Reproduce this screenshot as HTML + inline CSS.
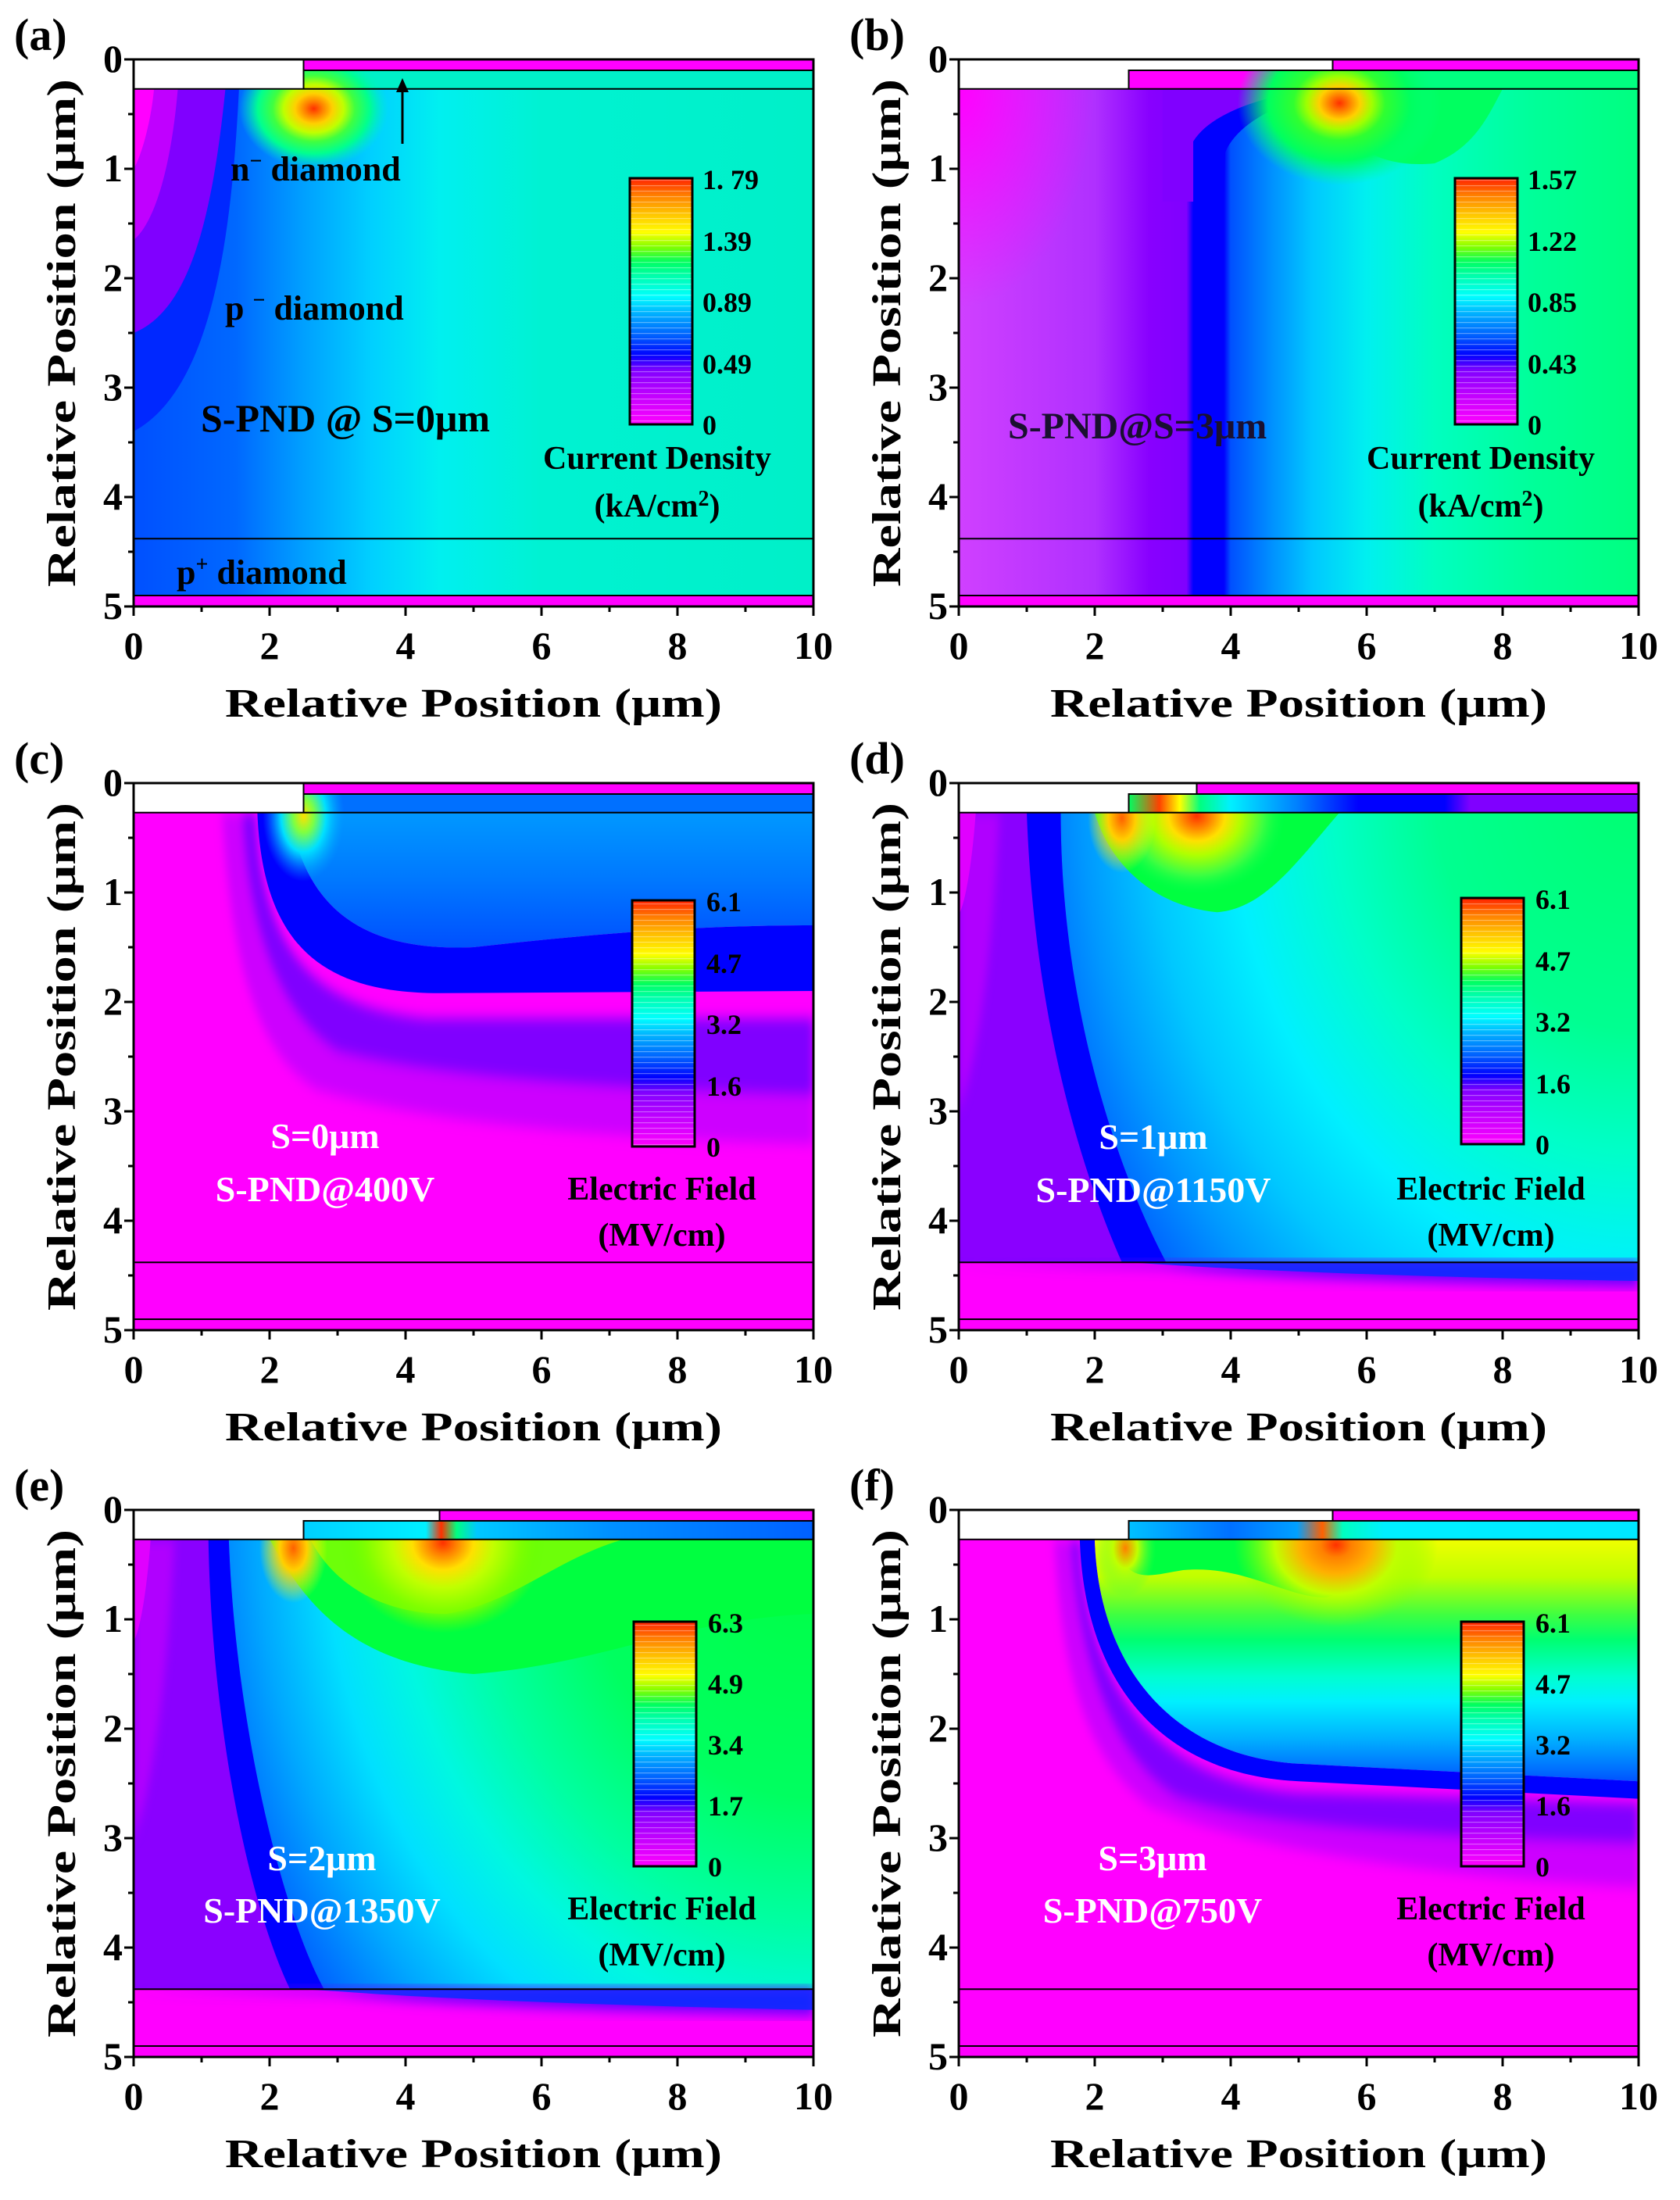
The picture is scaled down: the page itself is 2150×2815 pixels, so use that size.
<!DOCTYPE html>
<html><head><meta charset="utf-8"><style>
html,body{margin:0;padding:0;background:#fff;}
svg{display:block;}
text{font-family:"Liberation Serif",serif;font-weight:bold;fill:#000;}
.tk{font-size:50px;}
.tt{font-size:52px;}
.pl{font-size:58px;}
.cl{font-size:36px;}
.ct{font-size:42px;}
.wt{font-size:46px;fill:#fff;}
</style></head><body>
<svg width="2150" height="2815" viewBox="0 0 2150 2815" xmlns="http://www.w3.org/2000/svg">
<defs>
<linearGradient id="cb" x1="0" y1="1" x2="0" y2="0">
<stop offset="0" stop-color="#ff00ff"/><stop offset="0.12" stop-color="#c000ff"/><stop offset="0.22" stop-color="#8000ff"/><stop offset="0.28" stop-color="#0000ff"/><stop offset="0.36" stop-color="#0060ff"/><stop offset="0.45" stop-color="#00b0ff"/><stop offset="0.52" stop-color="#00ffff"/><stop offset="0.6" stop-color="#00ffb0"/><stop offset="0.66" stop-color="#00ff60"/><stop offset="0.72" stop-color="#80ff00"/><stop offset="0.78" stop-color="#ffff00"/><stop offset="0.86" stop-color="#ffc000"/><stop offset="0.93" stop-color="#ff8000"/><stop offset="1" stop-color="#ff2000"/>
</linearGradient>
<pattern id="stripe" width="10" height="7" patternUnits="userSpaceOnUse"><rect x="0" y="0" width="10" height="1.2" fill="#fff" opacity="0.35"/></pattern>
<filter id="bl" x="-20%" y="-20%" width="140%" height="140%"><feGaussianBlur stdDeviation="6"/></filter>
</defs>

<!-- ================= PANEL A ================= -->
<g transform="translate(171,76)">
<svg x="0" y="0" width="870" height="700" viewBox="0 0 1000 500" preserveAspectRatio="none">
<defs>
<linearGradient id="ga" x1="0" x2="1" y1="0" y2="0"><stop offset="0" stop-color="#0050ff"/><stop offset="0.15" stop-color="#0068ff"/><stop offset="0.25" stop-color="#00a0ff"/><stop offset="0.35" stop-color="#00d0ff"/><stop offset="0.45" stop-color="#00f0f0"/><stop offset="0.6" stop-color="#00f2d2"/><stop offset="1" stop-color="#00f0c8"/></linearGradient>
<radialGradient id="ha" cx="265" cy="45" r="110" gradientUnits="userSpaceOnUse" gradientTransform="translate(265,45) scale(1,0.5) translate(-265,-45)"><stop offset="0" stop-color="#ff3000"/><stop offset="0.12" stop-color="#ff8000"/><stop offset="0.25" stop-color="#ffd000"/><stop offset="0.4" stop-color="#c0ff00"/><stop offset="0.55" stop-color="#40ff40"/><stop offset="0.75" stop-color="#00ff90"/><stop offset="1" stop-color="#00f0c8" stop-opacity="0"/></radialGradient>
</defs>
<rect x="0" y="0" width="1000" height="500" fill="#00f0c8"/>
<rect x="0" y="27" width="1000" height="463" fill="url(#ga)"/>
<path d="M0,27 L155,27 C145,150 120,300 0,340 Z" fill="#0028ff"/>
<path d="M0,27 L135,27 C115,150 80,230 0,250 Z" fill="#8000ff"/>
<path d="M0,27 L65,27 C55,100 30,150 0,165 Z" fill="#c000ff"/>
<path d="M0,27 L30,27 C25,60 10,90 0,100 Z" fill="#ff00ff"/>
<rect x="250" y="10" width="750" height="17" fill="#00f0c8"/>
<rect x="100" y="10" width="400" height="200" fill="url(#ha)"/>
<rect x="0" y="0" width="250" height="27" fill="#fff"/>
<rect x="250" y="0" width="750" height="10" fill="#ff00ff"/>
<rect x="0" y="490" width="1000" height="10" fill="#ff00ff"/>
<path d="M0,27H1000M250,27V10H1000M250,10V0M0,438H1000M0,490H1000" stroke="#000" stroke-width="2" fill="none" vector-effect="non-scaling-stroke"/>
</svg>
<line x1="344" y1="108" x2="344" y2="34" stroke="#000" stroke-width="3"/>
<path d="M344,24 L336,42 L352,42 Z" fill="#000"/>
<text x="124" y="155" style="font-size:44px">n<tspan dy="-16" style="font-size:28px">−</tspan><tspan dy="16"> diamond</tspan></text>
<text x="117" y="333" style="font-size:44px">p <tspan dy="-16" style="font-size:28px">−</tspan><tspan dy="16"> diamond</tspan></text>
<text x="86" y="476" style="font-size:50px">S-PND @ S=0μm</text>
<text x="55" y="671" style="font-size:44px">p<tspan dy="-16" style="font-size:28px">+</tspan><tspan dy="16"> diamond</tspan></text>
<rect x="635" y="152" width="80" height="315" fill="url(#cb)"/><rect x="635" y="152" width="80" height="315" fill="url(#stripe)"/><rect x="635" y="152" width="80" height="315" fill="none" stroke="#000" stroke-width="3"/>
<text class="cl" x="728" y="166">1. 79</text><text class="cl" x="728" y="245">1.39</text><text class="cl" x="728" y="323">0.89</text><text class="cl" x="728" y="402">0.49</text><text class="cl" x="728" y="480">0</text>
<text class="ct" x="670" y="524" text-anchor="middle">Current  Density</text>
<text class="ct" x="670" y="585" text-anchor="middle">(kA/cm<tspan dy="-14" style="font-size:28px">2</tspan><tspan dy="14">)</tspan></text>
<rect x="0" y="0" width="870" height="700" fill="none" stroke="#000" stroke-width="3"/>
<path d="M0,700v12M174,700v12M348,700v12M522,700v12M696,700v12M870,700v12M87,700v7M261,700v7M435,700v7M609,700v7M783,700v7M0,0h-12M0,140h-12M0,280h-12M0,420h-12M0,560h-12M0,700h-12M0,70h-7M0,210h-7M0,350h-7M0,490h-7M0,630h-7" stroke="#000" stroke-width="3"/>
<text class="tk" x="0" y="767" text-anchor="middle">0</text><text class="tk" x="174" y="767" text-anchor="middle">2</text><text class="tk" x="348" y="767" text-anchor="middle">4</text><text class="tk" x="522" y="767" text-anchor="middle">6</text><text class="tk" x="696" y="767" text-anchor="middle">8</text><text class="tk" x="870" y="767" text-anchor="middle">10</text>
<text class="tk" x="-14" y="16" text-anchor="end">0</text><text class="tk" x="-14" y="156" text-anchor="end">1</text><text class="tk" x="-14" y="296" text-anchor="end">2</text><text class="tk" x="-14" y="436" text-anchor="end">3</text><text class="tk" x="-14" y="576" text-anchor="end">4</text><text class="tk" x="-14" y="716" text-anchor="end">5</text>
<text class="tt" x="435" y="841" text-anchor="middle" textLength="636" lengthAdjust="spacingAndGlyphs">Relative Position (μm)</text>
<text class="tt" transform="translate(-75,350) rotate(-90)" x="0" y="0" text-anchor="middle" textLength="650" lengthAdjust="spacingAndGlyphs">Relative Position (μm)</text>
<text class="pl" x="-153" y="-12">(a)</text>
</g>

<!-- ================= PANEL B ================= -->
<g transform="translate(1227,76)">
<svg x="0" y="0" width="870" height="700" viewBox="0 0 1000 500" preserveAspectRatio="none">
<defs>
<linearGradient id="gb" x1="0" x2="1" y1="0" y2="0"><stop offset="0" stop-color="#d040ff"/><stop offset="0.2" stop-color="#b030ff"/><stop offset="0.28" stop-color="#8800ff"/><stop offset="0.335" stop-color="#8000ff"/><stop offset="0.345" stop-color="#0000ff"/><stop offset="0.39" stop-color="#0000ff"/><stop offset="0.4" stop-color="#0050ff"/><stop offset="0.46" stop-color="#0090ff"/><stop offset="0.52" stop-color="#00c8ff"/><stop offset="0.6" stop-color="#00f0f0"/><stop offset="0.7" stop-color="#00ffc0"/><stop offset="0.85" stop-color="#00ff98"/><stop offset="1" stop-color="#00ff80"/></linearGradient>
<radialGradient id="hb" cx="560" cy="40" r="150" gradientUnits="userSpaceOnUse" gradientTransform="translate(560,40) scale(1,0.5) translate(-560,-40)"><stop offset="0" stop-color="#ff3000"/><stop offset="0.1" stop-color="#ff8000"/><stop offset="0.2" stop-color="#ffd000"/><stop offset="0.32" stop-color="#a0ff00"/><stop offset="0.45" stop-color="#30ff30"/><stop offset="0.7" stop-color="#00ff60"/><stop offset="1" stop-color="#00ff80" stop-opacity="0"/></radialGradient>
<radialGradient id="mb" cx="0" cy="27" r="200" gradientUnits="userSpaceOnUse"><stop offset="0" stop-color="#ff00ff"/><stop offset="1" stop-color="#ff00ff" stop-opacity="0"/></radialGradient>
</defs>
<rect x="0" y="0" width="1000" height="500" fill="url(#gb)"/>
<rect x="0" y="27" width="300" height="300" fill="url(#mb)"/>
<path d="M300,27 L520,27 C440,35 370,50 345,75 L345,130 L300,130 Z" fill="#8000ff"/>
<path d="M345,130 L345,75 C370,50 440,35 520,27 L548,27 C470,40 410,58 392,85 L390,130 Z" fill="#0000ff"/>
<path d="M540,27 C560,80 620,100 700,95 C760,80 780,50 800,27 Z" fill="#00ff60"/>
<rect x="250" y="10" width="300" height="17" fill="#ff00ff"/>
<rect x="530" y="10" width="20" height="17" fill="#4060ff"/>
<rect x="550" y="10" width="450" height="17" fill="#00ff80"/>
<rect x="400" y="10" width="400" height="200" fill="url(#hb)"/>
<rect x="0" y="0" width="250" height="27" fill="#fff"/>
<rect x="250" y="0" width="300" height="10" fill="#fff"/>
<rect x="550" y="0" width="450" height="10" fill="#ff00ff"/>
<rect x="0" y="490" width="1000" height="10" fill="#ff00ff"/>
<path d="M0,27H1000M250,27V10H1000M550,10V0M0,438H1000M0,490H1000" stroke="#000" stroke-width="2" fill="none" vector-effect="non-scaling-stroke"/>
</svg>
<text x="63" y="485" style="font-size:48px;fill:#1a1030">S-PND@S=3μm</text>
<rect x="635" y="152" width="80" height="315" fill="url(#cb)"/><rect x="635" y="152" width="80" height="315" fill="url(#stripe)"/><rect x="635" y="152" width="80" height="315" fill="none" stroke="#000" stroke-width="3"/>
<text class="cl" x="728" y="166">1.57</text><text class="cl" x="728" y="245">1.22</text><text class="cl" x="728" y="323">0.85</text><text class="cl" x="728" y="402">0.43</text><text class="cl" x="728" y="480">0</text>
<text class="ct" x="668" y="524" text-anchor="middle">Current  Density</text>
<text class="ct" x="668" y="585" text-anchor="middle">(kA/cm<tspan dy="-14" style="font-size:28px">2</tspan><tspan dy="14">)</tspan></text>
<rect x="0" y="0" width="870" height="700" fill="none" stroke="#000" stroke-width="3"/>
<path d="M0,700v12M174,700v12M348,700v12M522,700v12M696,700v12M870,700v12M87,700v7M261,700v7M435,700v7M609,700v7M783,700v7M0,0h-12M0,140h-12M0,280h-12M0,420h-12M0,560h-12M0,700h-12M0,70h-7M0,210h-7M0,350h-7M0,490h-7M0,630h-7" stroke="#000" stroke-width="3"/>
<text class="tk" x="0" y="767" text-anchor="middle">0</text><text class="tk" x="174" y="767" text-anchor="middle">2</text><text class="tk" x="348" y="767" text-anchor="middle">4</text><text class="tk" x="522" y="767" text-anchor="middle">6</text><text class="tk" x="696" y="767" text-anchor="middle">8</text><text class="tk" x="870" y="767" text-anchor="middle">10</text>
<text class="tk" x="-14" y="16" text-anchor="end">0</text><text class="tk" x="-14" y="156" text-anchor="end">1</text><text class="tk" x="-14" y="296" text-anchor="end">2</text><text class="tk" x="-14" y="436" text-anchor="end">3</text><text class="tk" x="-14" y="576" text-anchor="end">4</text><text class="tk" x="-14" y="716" text-anchor="end">5</text>
<text class="tt" x="435" y="841" text-anchor="middle" textLength="636" lengthAdjust="spacingAndGlyphs">Relative Position (μm)</text>
<text class="tt" transform="translate(-75,350) rotate(-90)" x="0" y="0" text-anchor="middle" textLength="650" lengthAdjust="spacingAndGlyphs">Relative Position (μm)</text>
<text class="pl" x="-140" y="-12">(b)</text>
</g>

<!-- ================= PANEL C ================= -->
<g transform="translate(171,1002)">
<svg x="0" y="0" width="870" height="700" viewBox="0 0 1000 500" preserveAspectRatio="none">
<defs>
<linearGradient id="gc" x1="0" y1="27" x2="0" y2="150" gradientUnits="userSpaceOnUse"><stop offset="0" stop-color="#0098ff"/><stop offset="0.5" stop-color="#0078ff"/><stop offset="1" stop-color="#0050ff"/></linearGradient>
<radialGradient id="hc" cx="250" cy="30" r="60" gradientUnits="userSpaceOnUse"><stop offset="0" stop-color="#ffe000"/><stop offset="0.25" stop-color="#80ff40"/><stop offset="0.55" stop-color="#00e0ff"/><stop offset="1" stop-color="#00a0ff" stop-opacity="0"/></radialGradient>
</defs>
<rect x="0" y="0" width="1000" height="500" fill="#ff00ff"/>
<g filter="url(#bl)">
<path d="M175,27 C185,170 270,225 420,240 L1000,240 L1000,330 C700,325 420,310 270,280 C160,240 140,120 130,27 Z" fill="#c000ff" opacity="0.8"/>
<path d="M180,27 C188,160 275,205 430,215 L1000,215 L1000,285 C700,280 430,268 300,245 C200,205 165,110 160,27 Z" fill="#8000ff"/>
</g>
<path d="M182,27 C190,150 280,192 450,192 L1000,190 L1000,130 C800,130 650,140 500,150 C330,155 250,110 230,27 Z" fill="#0000ff"/>
<path d="M230,27 C250,110 330,155 500,150 C650,140 800,130 1000,130 L1000,27 Z" fill="url(#gc)"/>
<rect x="250" y="10" width="750" height="17" fill="#0070ff"/>
<rect x="190" y="10" width="120" height="80" fill="url(#hc)"/>
<rect x="0" y="0" width="250" height="27" fill="#fff"/>
<rect x="250" y="0" width="750" height="10" fill="#ff00ff"/>
<rect x="0" y="490" width="1000" height="10" fill="#ff00ff"/>
<path d="M0,27H1000M250,27V10H1000M250,10V0M0,438H1000M0,490H1000" stroke="#000" stroke-width="2" fill="none" vector-effect="non-scaling-stroke"/>
</svg>
<text class="wt" x="245" y="467" text-anchor="middle">S=0μm</text>
<text class="wt" x="245" y="535" text-anchor="middle">S-PND@400V</text>
<rect x="638" y="150" width="80" height="315" fill="url(#cb)"/><rect x="638" y="150" width="80" height="315" fill="url(#stripe)"/><rect x="638" y="150" width="80" height="315" fill="none" stroke="#000" stroke-width="3"/>
<text class="cl" x="733" y="164">6.1</text><text class="cl" x="733" y="243">4.7</text><text class="cl" x="733" y="321">3.2</text><text class="cl" x="733" y="400">1.6</text><text class="cl" x="733" y="478">0</text>
<text class="ct" x="676" y="533" text-anchor="middle">Electric  Field</text>
<text class="ct" x="676" y="592" text-anchor="middle">(MV/cm)</text>
<rect x="0" y="0" width="870" height="700" fill="none" stroke="#000" stroke-width="3"/>
<path d="M0,700v12M174,700v12M348,700v12M522,700v12M696,700v12M870,700v12M87,700v7M261,700v7M435,700v7M609,700v7M783,700v7M0,0h-12M0,140h-12M0,280h-12M0,420h-12M0,560h-12M0,700h-12M0,70h-7M0,210h-7M0,350h-7M0,490h-7M0,630h-7" stroke="#000" stroke-width="3"/>
<text class="tk" x="0" y="767" text-anchor="middle">0</text><text class="tk" x="174" y="767" text-anchor="middle">2</text><text class="tk" x="348" y="767" text-anchor="middle">4</text><text class="tk" x="522" y="767" text-anchor="middle">6</text><text class="tk" x="696" y="767" text-anchor="middle">8</text><text class="tk" x="870" y="767" text-anchor="middle">10</text>
<text class="tk" x="-14" y="16" text-anchor="end">0</text><text class="tk" x="-14" y="156" text-anchor="end">1</text><text class="tk" x="-14" y="296" text-anchor="end">2</text><text class="tk" x="-14" y="436" text-anchor="end">3</text><text class="tk" x="-14" y="576" text-anchor="end">4</text><text class="tk" x="-14" y="716" text-anchor="end">5</text>
<text class="tt" x="435" y="841" text-anchor="middle" textLength="636" lengthAdjust="spacingAndGlyphs">Relative Position (μm)</text>
<text class="tt" transform="translate(-75,350) rotate(-90)" x="0" y="0" text-anchor="middle" textLength="650" lengthAdjust="spacingAndGlyphs">Relative Position (μm)</text>
<text class="pl" x="-153" y="-12">(c)</text>
</g>

<!-- ================= PANEL D ================= -->
<g transform="translate(1227,1002)">
<svg x="0" y="0" width="870" height="700" viewBox="0 0 1000 500" preserveAspectRatio="none">
<defs>
<radialGradient id="gd" cx="1000" cy="0" r="1000" gradientUnits="userSpaceOnUse" gradientTransform="translate(1000,0) scale(1,0.75) translate(-1000,0)"><stop offset="0" stop-color="#00ff70"/><stop offset="0.3" stop-color="#00ff90"/><stop offset="0.45" stop-color="#00ffc8"/><stop offset="0.6" stop-color="#00f0ff"/><stop offset="0.72" stop-color="#00c8ff"/><stop offset="0.82" stop-color="#0098ff"/><stop offset="0.92" stop-color="#0060ff"/><stop offset="1" stop-color="#0030ff"/></radialGradient>
<radialGradient id="hd1" cx="350" cy="30" r="130" gradientUnits="userSpaceOnUse" gradientTransform="translate(350,30) scale(1,0.55) translate(-350,-30)"><stop offset="0" stop-color="#ff3000"/><stop offset="0.15" stop-color="#ff8000"/><stop offset="0.32" stop-color="#ffe000"/><stop offset="0.5" stop-color="#b0ff00"/><stop offset="0.75" stop-color="#40ff40"/><stop offset="1" stop-color="#00ff50" stop-opacity="0"/></radialGradient>
<radialGradient id="hd2" cx="240" cy="32" r="50" gradientUnits="userSpaceOnUse"><stop offset="0" stop-color="#ff6000"/><stop offset="0.4" stop-color="#ffd000"/><stop offset="1" stop-color="#ffff00" stop-opacity="0"/></radialGradient>
<linearGradient id="ld" x1="250" x2="1000" y1="0" y2="0" gradientUnits="userSpaceOnUse"><stop offset="0" stop-color="#00ff60"/><stop offset="0.06" stop-color="#ff4000"/><stop offset="0.1" stop-color="#ffff00"/><stop offset="0.14" stop-color="#00ff80"/><stop offset="0.2" stop-color="#00f0ff"/><stop offset="0.33" stop-color="#0080ff"/><stop offset="0.45" stop-color="#0000ff"/><stop offset="0.62" stop-color="#0000ff"/><stop offset="0.67" stop-color="#8000ff"/><stop offset="1" stop-color="#8000ff"/></linearGradient>
</defs>
<rect x="0" y="0" width="1000" height="500" fill="#8a00ff"/>
<path d="M0,27 L60,27 C50,150 30,250 0,300 Z" fill="#b000ff" filter="url(#bl)"/>
<path d="M0,27 L25,27 C20,70 10,110 0,120 Z" fill="#e000ff"/>
<path d="M150,27 C150,200 230,350 305,438 L1000,438 L1000,27 Z" fill="url(#gd)"/>
<path d="M100,27 L150,27 C150,200 230,350 305,438 L240,438 C170,340 110,200 100,27 Z" fill="#0000ff"/>
<path d="M200,27 C220,70 280,112 380,118 C450,115 500,70 560,27 Z" fill="#00ff40"/>
<rect x="150" y="10" width="400" height="150" fill="url(#hd1)"/>
<rect x="180" y="10" width="130" height="80" fill="url(#hd2)"/>
<rect x="0" y="438" width="1000" height="52" fill="#ff00ff"/>
<path d="M0,438 L1000,438 L1000,460 C600,455 420,450 300,442 Z" fill="#6000ff" filter="url(#bl)"/>
<path d="M250,438 L1000,438 L1000,455 C700,452 450,446 300,440 Z" fill="#0030ff" opacity="0.8"/>
<rect x="250" y="10" width="750" height="17" fill="url(#ld)"/>
<rect x="0" y="0" width="250" height="27" fill="#fff"/>
<rect x="250" y="0" width="100" height="10" fill="#fff"/>
<rect x="350" y="0" width="650" height="10" fill="#ff00ff"/>
<rect x="0" y="490" width="1000" height="10" fill="#ff00ff"/>
<path d="M0,27H1000M250,27V10H1000M350,10V0M0,438H1000M0,490H1000" stroke="#000" stroke-width="2" fill="none" vector-effect="non-scaling-stroke"/>
</svg>
<text class="wt" x="249" y="468" text-anchor="middle">S=1μm</text>
<text class="wt" x="249" y="536" text-anchor="middle">S-PND@1150V</text>
<rect x="643" y="147" width="80" height="315" fill="url(#cb)"/><rect x="643" y="147" width="80" height="315" fill="url(#stripe)"/><rect x="643" y="147" width="80" height="315" fill="none" stroke="#000" stroke-width="3"/>
<text class="cl" x="738" y="161">6.1</text><text class="cl" x="738" y="240">4.7</text><text class="cl" x="738" y="318">3.2</text><text class="cl" x="738" y="397">1.6</text><text class="cl" x="738" y="475">0</text>
<text class="ct" x="681" y="533" text-anchor="middle">Electric  Field</text>
<text class="ct" x="681" y="592" text-anchor="middle">(MV/cm)</text>
<rect x="0" y="0" width="870" height="700" fill="none" stroke="#000" stroke-width="3"/>
<path d="M0,700v12M174,700v12M348,700v12M522,700v12M696,700v12M870,700v12M87,700v7M261,700v7M435,700v7M609,700v7M783,700v7M0,0h-12M0,140h-12M0,280h-12M0,420h-12M0,560h-12M0,700h-12M0,70h-7M0,210h-7M0,350h-7M0,490h-7M0,630h-7" stroke="#000" stroke-width="3"/>
<text class="tk" x="0" y="767" text-anchor="middle">0</text><text class="tk" x="174" y="767" text-anchor="middle">2</text><text class="tk" x="348" y="767" text-anchor="middle">4</text><text class="tk" x="522" y="767" text-anchor="middle">6</text><text class="tk" x="696" y="767" text-anchor="middle">8</text><text class="tk" x="870" y="767" text-anchor="middle">10</text>
<text class="tk" x="-14" y="16" text-anchor="end">0</text><text class="tk" x="-14" y="156" text-anchor="end">1</text><text class="tk" x="-14" y="296" text-anchor="end">2</text><text class="tk" x="-14" y="436" text-anchor="end">3</text><text class="tk" x="-14" y="576" text-anchor="end">4</text><text class="tk" x="-14" y="716" text-anchor="end">5</text>
<text class="tt" x="435" y="841" text-anchor="middle" textLength="636" lengthAdjust="spacingAndGlyphs">Relative Position (μm)</text>
<text class="tt" transform="translate(-75,350) rotate(-90)" x="0" y="0" text-anchor="middle" textLength="650" lengthAdjust="spacingAndGlyphs">Relative Position (μm)</text>
<text class="pl" x="-140" y="-12">(d)</text>
</g>

<!-- ================= PANEL E ================= -->
<g transform="translate(171,1932)">
<svg x="0" y="0" width="870" height="700" viewBox="0 0 1000 500" preserveAspectRatio="none">
<defs>
<radialGradient id="ge" cx="1000" cy="0" r="1000" gradientUnits="userSpaceOnUse" gradientTransform="translate(1000,0) scale(1,0.75) translate(-1000,0)"><stop offset="0" stop-color="#00ff40"/><stop offset="0.35" stop-color="#00ff60"/><stop offset="0.5" stop-color="#00ffa0"/><stop offset="0.62" stop-color="#00f8e0"/><stop offset="0.72" stop-color="#00e0ff"/><stop offset="0.82" stop-color="#00a8ff"/><stop offset="0.92" stop-color="#0068ff"/><stop offset="1" stop-color="#0030ff"/></radialGradient>
<radialGradient id="he1" cx="455" cy="30" r="150" gradientUnits="userSpaceOnUse" gradientTransform="translate(455,30) scale(1,0.55) translate(-455,-30)"><stop offset="0" stop-color="#ff3000"/><stop offset="0.13" stop-color="#ff8000"/><stop offset="0.3" stop-color="#ffe000"/><stop offset="0.5" stop-color="#c0ff00"/><stop offset="0.75" stop-color="#80ff00"/><stop offset="1" stop-color="#60ff00" stop-opacity="0"/></radialGradient>
<radialGradient id="he2" cx="235" cy="35" r="50" gradientUnits="userSpaceOnUse"><stop offset="0" stop-color="#ff6000"/><stop offset="0.4" stop-color="#ffd000"/><stop offset="1" stop-color="#ffff00" stop-opacity="0"/></radialGradient>
<linearGradient id="le" x1="250" x2="1000" y1="0" y2="0" gradientUnits="userSpaceOnUse"><stop offset="0" stop-color="#00d0ff"/><stop offset="0.24" stop-color="#00f0ff"/><stop offset="0.27" stop-color="#ff3000"/><stop offset="0.3" stop-color="#00ff80"/><stop offset="0.34" stop-color="#00c8ff"/><stop offset="0.6" stop-color="#0090ff"/><stop offset="1" stop-color="#0060ff"/></linearGradient>
</defs>
<rect x="0" y="0" width="1000" height="500" fill="#8a00ff"/>
<path d="M0,27 L60,27 C50,150 30,250 0,300 Z" fill="#b000ff" filter="url(#bl)"/>
<path d="M0,27 L25,27 C20,70 10,110 0,120 Z" fill="#e000ff"/>
<path d="M140,27 C150,200 220,370 280,438 L1000,438 L1000,27 Z" fill="url(#ge)"/>
<path d="M110,27 L140,27 C150,200 220,370 280,438 L230,438 C170,360 115,200 110,27 Z" fill="#0000ff"/>
<path d="M200,27 C240,70 300,140 500,150 C700,140 800,100 1000,95 L1000,27 Z" fill="#00ff40"/>
<path d="M260,27 C300,75 380,95 460,95 C560,85 620,45 720,27 Z" fill="#80ff00" opacity="0.85"/>
<rect x="250" y="10" width="450" height="150" fill="url(#he1)"/>
<rect x="170" y="10" width="130" height="80" fill="url(#he2)"/>
<rect x="0" y="438" width="1000" height="52" fill="#ff00ff"/>
<path d="M0,438 L1000,438 L1000,462 C600,456 420,450 300,442 Z" fill="#6000ff" filter="url(#bl)"/>
<path d="M250,438 L1000,438 L1000,457 C700,453 450,447 300,440 Z" fill="#0030ff" opacity="0.8"/>
<rect x="250" y="10" width="750" height="17" fill="url(#le)"/>
<rect x="0" y="0" width="250" height="27" fill="#fff"/>
<rect x="250" y="0" width="200" height="10" fill="#fff"/>
<rect x="450" y="0" width="550" height="10" fill="#ff00ff"/>
<rect x="0" y="490" width="1000" height="10" fill="#ff00ff"/>
<path d="M0,27H1000M250,27V10H1000M450,10V0M0,438H1000M0,490H1000" stroke="#000" stroke-width="2" fill="none" vector-effect="non-scaling-stroke"/>
</svg>
<text class="wt" x="241" y="461" text-anchor="middle">S=2μm</text>
<text class="wt" x="241" y="528" text-anchor="middle">S-PND@1350V</text>
<rect x="640" y="143" width="80" height="313" fill="url(#cb)"/><rect x="640" y="143" width="80" height="313" fill="url(#stripe)"/><rect x="640" y="143" width="80" height="313" fill="none" stroke="#000" stroke-width="3"/>
<text class="cl" x="735" y="157">6.3</text><text class="cl" x="735" y="235">4.9</text><text class="cl" x="735" y="313">3.4</text><text class="cl" x="735" y="391">1.7</text><text class="cl" x="735" y="469">0</text>
<text class="ct" x="676" y="524" text-anchor="middle">Electric  Field</text>
<text class="ct" x="676" y="583" text-anchor="middle">(MV/cm)</text>
<rect x="0" y="0" width="870" height="700" fill="none" stroke="#000" stroke-width="3"/>
<path d="M0,700v12M174,700v12M348,700v12M522,700v12M696,700v12M870,700v12M87,700v7M261,700v7M435,700v7M609,700v7M783,700v7M0,0h-12M0,140h-12M0,280h-12M0,420h-12M0,560h-12M0,700h-12M0,70h-7M0,210h-7M0,350h-7M0,490h-7M0,630h-7" stroke="#000" stroke-width="3"/>
<text class="tk" x="0" y="767" text-anchor="middle">0</text><text class="tk" x="174" y="767" text-anchor="middle">2</text><text class="tk" x="348" y="767" text-anchor="middle">4</text><text class="tk" x="522" y="767" text-anchor="middle">6</text><text class="tk" x="696" y="767" text-anchor="middle">8</text><text class="tk" x="870" y="767" text-anchor="middle">10</text>
<text class="tk" x="-14" y="16" text-anchor="end">0</text><text class="tk" x="-14" y="156" text-anchor="end">1</text><text class="tk" x="-14" y="296" text-anchor="end">2</text><text class="tk" x="-14" y="436" text-anchor="end">3</text><text class="tk" x="-14" y="576" text-anchor="end">4</text><text class="tk" x="-14" y="716" text-anchor="end">5</text>
<text class="tt" x="435" y="841" text-anchor="middle" textLength="636" lengthAdjust="spacingAndGlyphs">Relative Position (μm)</text>
<text class="tt" transform="translate(-75,350) rotate(-90)" x="0" y="0" text-anchor="middle" textLength="650" lengthAdjust="spacingAndGlyphs">Relative Position (μm)</text>
<text class="pl" x="-153" y="-12">(e)</text>
</g>

<!-- ================= PANEL F ================= -->
<g transform="translate(1227,1932)">
<svg x="0" y="0" width="870" height="700" viewBox="0 0 1000 500" preserveAspectRatio="none">
<defs>
<linearGradient id="gf" x1="0" y1="27" x2="0" y2="255" gradientUnits="userSpaceOnUse"><stop offset="0" stop-color="#f0ff00"/><stop offset="0.15" stop-color="#c0ff00"/><stop offset="0.3" stop-color="#40ff40"/><stop offset="0.4" stop-color="#00ff70"/><stop offset="0.55" stop-color="#00ffd0"/><stop offset="0.65" stop-color="#00f0ff"/><stop offset="0.8" stop-color="#00b0ff"/><stop offset="0.92" stop-color="#0070ff"/><stop offset="1" stop-color="#0040ff"/></linearGradient>
<radialGradient id="hf1" cx="555" cy="32" r="150" gradientUnits="userSpaceOnUse" gradientTransform="translate(555,32) scale(1,0.5) translate(-555,-32)"><stop offset="0" stop-color="#ff3000"/><stop offset="0.15" stop-color="#ff8000"/><stop offset="0.35" stop-color="#ffb000"/><stop offset="0.6" stop-color="#c0ff00"/><stop offset="1" stop-color="#80ff00" stop-opacity="0"/></radialGradient>
<radialGradient id="hf2" cx="245" cy="35" r="45" gradientUnits="userSpaceOnUse"><stop offset="0" stop-color="#ff8000"/><stop offset="0.4" stop-color="#c0ff00"/><stop offset="1" stop-color="#40ff40" stop-opacity="0"/></radialGradient>
<linearGradient id="lf" x1="250" x2="1000" y1="0" y2="0" gradientUnits="userSpaceOnUse"><stop offset="0" stop-color="#00c0ff"/><stop offset="0.2" stop-color="#0070ff"/><stop offset="0.33" stop-color="#00a0ff"/><stop offset="0.38" stop-color="#ff6000"/><stop offset="0.42" stop-color="#00ffc0"/><stop offset="0.5" stop-color="#00f0ff"/><stop offset="1" stop-color="#00e8ff"/></linearGradient>
</defs>
<rect x="0" y="0" width="1000" height="500" fill="#ff00ff"/>
<g filter="url(#bl)">
<path d="M178,27 C185,170 290,250 500,262 L1000,275 L1000,345 C700,335 420,310 280,270 C170,220 150,120 140,27 Z" fill="#c000ff" opacity="0.8"/>
<path d="M178,27 C186,165 295,248 500,258 L1000,268 L1000,305 C700,298 450,292 320,262 C220,222 175,130 165,27 Z" fill="#8000ff"/>
</g>
<path d="M178,27 C185,160 300,242 500,248 L1000,264 L1000,248 L500,232 C310,225 205,140 200,27 Z" fill="#0000ff"/>
<path d="M200,27 C205,140 310,225 500,232 L1000,248 L1000,27 Z" fill="url(#gf)"/>
<path d="M230,27 C245,70 280,60 330,55 C420,50 480,80 540,80 C600,70 620,40 640,27 Z" fill="#00ff40"/>
<rect x="350" y="10" width="450" height="140" fill="url(#hf1)"/>
<rect x="190" y="10" width="110" height="80" fill="url(#hf2)"/>
<rect x="250" y="10" width="750" height="17" fill="url(#lf)"/>
<rect x="0" y="0" width="250" height="27" fill="#fff"/>
<rect x="250" y="0" width="300" height="10" fill="#fff"/>
<rect x="550" y="0" width="450" height="10" fill="#ff00ff"/>
<rect x="0" y="490" width="1000" height="10" fill="#ff00ff"/>
<path d="M0,27H1000M250,27V10H1000M550,10V0M0,438H1000M0,490H1000" stroke="#000" stroke-width="2" fill="none" vector-effect="non-scaling-stroke"/>
</svg>
<text class="wt" x="248" y="461" text-anchor="middle">S=3μm</text>
<text class="wt" x="248" y="528" text-anchor="middle">S-PND@750V</text>
<rect x="643" y="143" width="80" height="313" fill="url(#cb)"/><rect x="643" y="143" width="80" height="313" fill="url(#stripe)"/><rect x="643" y="143" width="80" height="313" fill="none" stroke="#000" stroke-width="3"/>
<text class="cl" x="738" y="157">6.1</text><text class="cl" x="738" y="235">4.7</text><text class="cl" x="738" y="313">3.2</text><text class="cl" x="738" y="391">1.6</text><text class="cl" x="738" y="469">0</text>
<text class="ct" x="681" y="524" text-anchor="middle">Electric  Field</text>
<text class="ct" x="681" y="583" text-anchor="middle">(MV/cm)</text>
<rect x="0" y="0" width="870" height="700" fill="none" stroke="#000" stroke-width="3"/>
<path d="M0,700v12M174,700v12M348,700v12M522,700v12M696,700v12M870,700v12M87,700v7M261,700v7M435,700v7M609,700v7M783,700v7M0,0h-12M0,140h-12M0,280h-12M0,420h-12M0,560h-12M0,700h-12M0,70h-7M0,210h-7M0,350h-7M0,490h-7M0,630h-7" stroke="#000" stroke-width="3"/>
<text class="tk" x="0" y="767" text-anchor="middle">0</text><text class="tk" x="174" y="767" text-anchor="middle">2</text><text class="tk" x="348" y="767" text-anchor="middle">4</text><text class="tk" x="522" y="767" text-anchor="middle">6</text><text class="tk" x="696" y="767" text-anchor="middle">8</text><text class="tk" x="870" y="767" text-anchor="middle">10</text>
<text class="tk" x="-14" y="16" text-anchor="end">0</text><text class="tk" x="-14" y="156" text-anchor="end">1</text><text class="tk" x="-14" y="296" text-anchor="end">2</text><text class="tk" x="-14" y="436" text-anchor="end">3</text><text class="tk" x="-14" y="576" text-anchor="end">4</text><text class="tk" x="-14" y="716" text-anchor="end">5</text>
<text class="tt" x="435" y="841" text-anchor="middle" textLength="636" lengthAdjust="spacingAndGlyphs">Relative Position (μm)</text>
<text class="tt" transform="translate(-75,350) rotate(-90)" x="0" y="0" text-anchor="middle" textLength="650" lengthAdjust="spacingAndGlyphs">Relative Position (μm)</text>
<text class="pl" x="-140" y="-12">(f)</text>
</g>
</svg>
</body></html>
